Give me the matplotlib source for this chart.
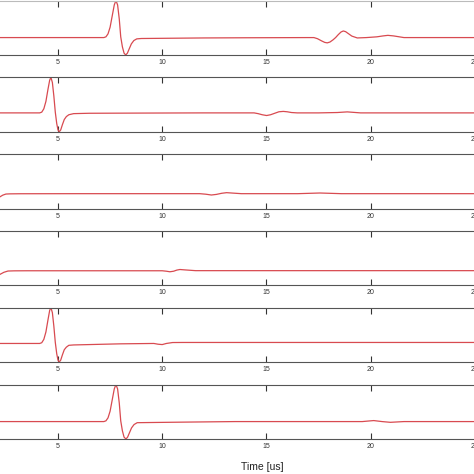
import matplotlib.pyplot as plt

# ==== Data (amplitude in arbitrary units) ====
t1 = [0, 7.2, 7.3, 7.4, 7.5, 7.6, 7.7, 7.78, 7.86, 7.94, 8.01, 8.09, 8.17, 8.25, 8.33, 8.42, 8.52, 8.64, 8.78,
      9.0, 10.0, 12.0, 14.0, 17.0, 17.28, 17.45, 17.65, 17.8, 17.92, 18.05, 18.2, 18.32, 18.45, 18.58, 18.69,
      18.8, 18.95, 19.1, 19.36, 19.8, 20.3, 20.6, 20.83, 21.1, 21.6, 23.0, 25.0]
v1 = [0, 0, 0.02, 0.1, 0.28, 0.58, 0.88, 1.0, 0.88, 0.5, 0.02, -0.25, -0.42, -0.47, -0.42, -0.3, -0.17, -0.08, -0.035,
      -0.025, -0.02, -0.01, -0.005, 0, 0, -0.03, -0.09, -0.13, -0.143, -0.12, -0.06, 0.0, 0.08, 0.15, 0.178,
      0.16, 0.1, 0.04, -0.01, 0, 0.02, 0.045, 0.06, 0.045, 0.0, 0.0, 0.0]

t2 = [0, 4.12, 4.22, 4.32, 4.42, 4.52, 4.6, 4.66, 4.73, 4.8, 4.87, 4.94, 5.0, 5.06, 5.13, 5.21, 5.3, 5.4, 5.52,
      5.75, 6.5, 9.0, 12.0, 14.0, 14.41, 14.6, 14.8, 15.01, 15.2, 15.4, 15.6, 15.81, 16.0, 16.2, 16.48,
      17.5, 18.4, 18.88, 19.52, 21.0, 25.0]
v2 = [0.04, 0.04, 0.06, 0.15, 0.35, 0.68, 0.92, 1.0, 0.86, 0.5, 0.06, -0.25, -0.42, -0.47, -0.42, -0.28, -0.14, -0.06, -0.01,
      0.02, 0.03, 0.035, 0.04, 0.04, 0.04, 0.02, -0.01, -0.031, -0.01, 0.03, 0.07, 0.08, 0.07, 0.05, 0.04,
      0.04, 0.05, 0.067, 0.04, 0.04, 0.04]

t3 = [0, 2.2, 2.35, 2.5, 2.7, 3.2, 6.0, 11.8, 12.1, 12.36, 12.6, 12.85, 13.09, 13.4, 13.8, 16.5, 17.57, 18.6, 21.0, 25.0]
v3 = [-0.3, -0.16, -0.11, -0.08, -0.075, -0.072, -0.07, -0.07, -0.085, -0.106, -0.09, -0.06, -0.043, -0.055, -0.07,
      -0.07, -0.052, -0.07, -0.07, -0.07]

t4 = [0, 2.2, 2.4, 2.6, 2.9, 3.5, 10.0, 10.2, 10.37, 10.55, 10.7, 10.85, 11.1, 11.6, 25.0]
v4 = [-0.35, -0.18, -0.12, -0.085, -0.08, -0.078, -0.078, -0.09, -0.105, -0.09, -0.06, -0.044, -0.055, -0.075, -0.075]

t5 = [0, 4.12, 4.22, 4.32, 4.42, 4.52, 4.6, 4.66, 4.73, 4.8, 4.87, 4.94, 5.0, 5.06, 5.13, 5.21, 5.3, 5.4, 5.52,
      5.75, 6.5, 8.0, 9.6, 9.8, 10.0, 10.2, 10.5, 11.0, 14.0, 25.0]
v5 = [0.03, 0.03, 0.05, 0.14, 0.34, 0.67, 0.92, 1.0, 0.86, 0.5, 0.06, -0.25, -0.42, -0.47, -0.42, -0.28, -0.14, -0.07, -0.02,
      -0.01, 0.0, 0.02, 0.03, 0.01, 0.0, 0.03, 0.055, 0.057, 0.057, 0.057]

t6 = [0, 7.2, 7.3, 7.4, 7.5, 7.6, 7.7, 7.78, 7.86, 7.94, 8.01, 8.09, 8.17, 8.26, 8.34, 8.43, 8.53, 8.65, 8.8,
      9.5, 11.0, 13.5, 19.6, 19.9, 20.15, 20.55, 20.95, 21.6, 25.0]
v6 = [0, 0, 0.02, 0.1, 0.28, 0.58, 0.88, 1.0, 0.88, 0.5, 0.02, -0.25, -0.42, -0.47, -0.42, -0.3, -0.17, -0.08, -0.03,
      -0.025, -0.015, 0, 0, 0.015, 0.027, 0.0, -0.02, 0, 0]

times = [t1, t2, t3, t4, t5, t6]
values = [v1, v2, v3, v4, v5, v6]
xticks = [5, 10, 15, 20, 25]

# ==== Layout (pixels of a 474x474 figure) ====
W = H = 474
panel_tops = [0.5, 77.3, 154, 230.8, 307.5, 384.5]
panel_h = 54.5
x_left, x_right = -46.2, 474.8   # pixel positions of t=0 and t=25

fig = plt.figure(figsize=(4.74, 4.74), dpi=100)
plt.rcParams['font.family'] = ['Liberation Sans', 'DejaVu Sans']

for i, (top, t, v) in enumerate(zip(panel_tops, times, values)):
    ax = fig.add_axes([x_left / W, 1 - (top + panel_h) / H, (x_right - x_left) / W, panel_h / H])
    ax.plot(t, v, color='#d84a50', linewidth=0.9)
    ax.set_xlim(0, 25)
    ax.set_ylim(-0.47, 1.0)
    ax.set_yticks([])
    ax.set_xticks(xticks)
    ax.tick_params(axis='x', direction='in', top=True, bottom=True, length=4.3, width=0.8,
                   color='#333333', labelsize=5, labelcolor='#333333', pad=3)
    for side in ['left', 'right']:
        ax.spines[side].set_visible(False)
    for side in ['top', 'bottom']:
        ax.spines[side].set_color('#555555')
        ax.spines[side].set_linewidth(0.8)
    if i == 0:
        ax.spines['top'].set_color('#bbbbbb')

fig.text(262 / W, 1 - 467.5 / H, 'Time [us]', ha='center', va='center', fontsize=7.5, color='#222222')

plt.savefig('out.png', dpi=100)
